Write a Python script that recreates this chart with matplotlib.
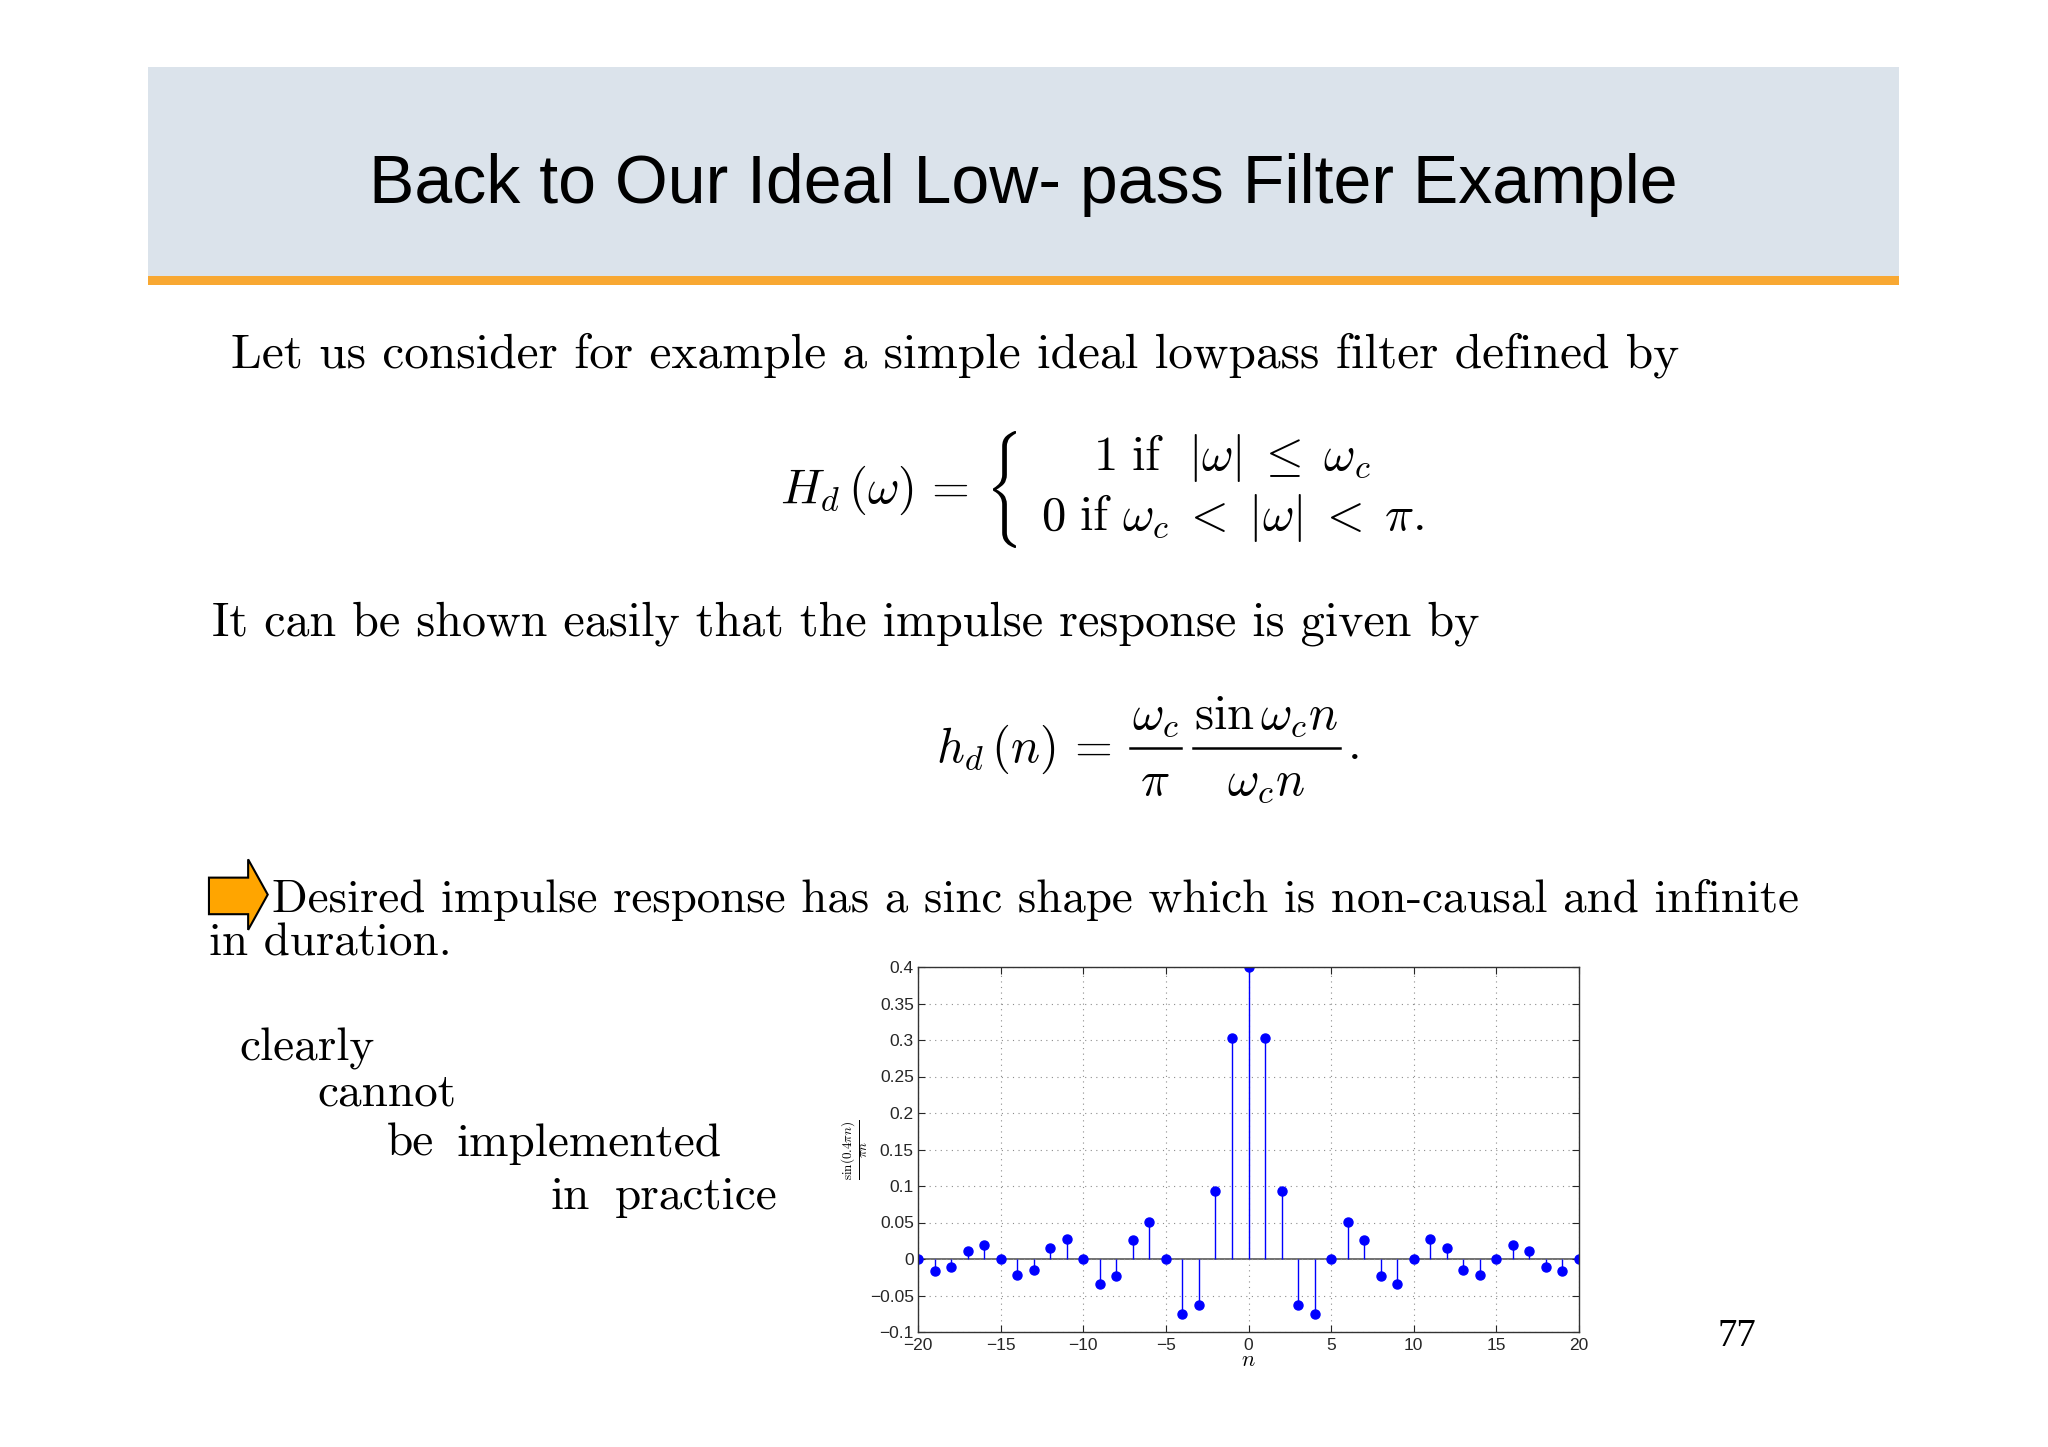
import numpy as np
import matplotlib.pyplot as plt
from matplotlib.patches import Rectangle, Polygon, PathPatch
from matplotlib.textpath import TextPath
from matplotlib.transforms import Affine2D, IdentityTransform
from matplotlib.lines import Line2D

plt.rcParams['mathtext.fontset'] = 'cm'

W, H = 2048, 1447

# stem data
n_vals = list(range(-20, 21))
h_vals = [0.0, -0.0159, -0.0104, 0.0110, 0.0189, 0.0, -0.0216, -0.0144, 0.0156, 0.0275,
          0.0, -0.0336, -0.0234, 0.0267, 0.0505, 0.0, -0.0757, -0.0624, 0.0935, 0.3027,
          0.4,
          0.3027, 0.0935, -0.0624, -0.0757, 0.0, 0.0505, 0.0267, -0.0234, -0.0336, 0.0,
          0.0275, 0.0156, -0.0144, -0.0216, 0.0, 0.0189, 0.0110, -0.0104, -0.0159, 0.0]
x_ticks = [-20, -15, -10, -5, 0, 5, 10, 15, 20]
y_ticks = [-0.1, -0.05, 0, 0.05, 0.1, 0.15, 0.2, 0.25, 0.3, 0.35, 0.4]
y_tick_labels = ['\u22120.1', '\u22120.05', '0', '0.05', '0.1', '0.15', '0.2', '0.25', '0.3', '0.35', '0.4']
x_tick_labels = ['\u221220', '\u221215', '\u221210', '\u22125', '0', '5', '10', '15', '20']

title = 'Back to Our Ideal Low- pass Filter Example'
line1 = 'Let us consider for example a simple ideal lowpass filter defined by'
line2 = 'It can be shown easily that the impulse response is given by'
line3 = 'Desired impulse response has a sinc shape which is non-causal and infinite'
line4 = 'in duration.'
steps = ['clearly', 'cannot', 'be', 'implemented', 'in', 'practice']


def P(x, y):
    # pixel position (from top-left) -> figure fraction
    return x / W, 1 - y / H


fig = plt.figure(figsize=(W / 100, H / 100), dpi=100)
fig.patch.set_facecolor('white')

# header band
x0, y0 = P(148, 276)
fig.patches.append(Rectangle((x0, y0), (1899 - 148) / W, (276 - 67) / H,
                             transform=fig.transFigure, facecolor='#dbe3eb', edgecolor='none'))
x0, y0 = P(148, 285)
fig.patches.append(Rectangle((x0, y0), (1899 - 148) / W, 9 / H,
                             transform=fig.transFigure, facecolor='#f8a832', edgecolor='none'))
fig.text(*P(1023, 203), title, family='Liberation Sans', fontsize=49,
         ha='center', va='baseline', color='black')

body = dict(family='cmr10', va='baseline', color='black')
fig.text(*P(231, 367), line1, fontsize=35.5, **body)

# H_d(w) with cases
mfs = 35
fig.text(*P(969, 503), r'$H_d\,(\omega)\,=$', fontsize=mfs, ha='right', va='baseline')
fig.text(*P(1232, 470), r'$1\ \mathrm{if}\ \ |\omega|\;\leq\;\omega_c$', fontsize=mfs,
         ha='center', va='baseline')
fig.text(*P(1232, 530), r'$0\ \mathrm{if}\ \omega_c\;<\;|\omega|\;<\;\pi.$', fontsize=mfs,
         ha='center', va='baseline')
tp = TextPath((0, 0), r'$\{$', size=60)
bb = tp.get_extents()
bx0, bx1, by0, by1 = 993, 1016, 431, 548
tr = (Affine2D().translate(-bb.x0, -bb.y0)
      .scale((bx1 - bx0) / bb.width, (by1 - by0) / bb.height)
      .translate(bx0, H - by1))
fig.patches.append(PathPatch(tr.transform_path(tp), transform=IdentityTransform(),
                             facecolor='black', edgecolor='none'))

fig.text(*P(212, 635), line2, fontsize=34.7, **body)

# h_d(n) built piece by piece
fig.text(*P(936, 762), r'$h_d\,(n)\,=$', fontsize=mfs, ha='left', va='baseline')
fig.text(*P(1155, 729), r'$\omega_c$', fontsize=mfs, ha='center', va='baseline')
fig.text(*P(1155, 795), r'$\pi$', fontsize=mfs, ha='center', va='baseline')
fig.text(*P(1266, 729), r'$\sin\omega_c n$', fontsize=mfs, ha='center', va='baseline')
fig.text(*P(1266, 795), r'$\omega_c n$', fontsize=mfs, ha='center', va='baseline')
fig.text(*P(1347, 759), r'$.$', fontsize=mfs, ha='left', va='baseline')
for xa, xb in [(1130, 1181), (1193, 1340)]:
    fig.lines.append(Line2D([xa / W, xb / W], [1 - 748 / H] * 2, transform=fig.transFigure,
                            color='black', linewidth=1.8))

# orange block arrow
s = 1.306
arrow = [(160, 672), (190, 672), (190, 658), (205, 685), (190, 712), (190, 700), (160, 700)]
fig.patches.append(Polygon([P(a * s, b * s) for a, b in arrow], closed=True,
                           transform=fig.transFigure, facecolor='#ffa500',
                           edgecolor='black', linewidth=1.5))
fig.text(*P(272, 912), line3, fontsize=33.8, **body)
fig.text(*P(209, 956), line4, fontsize=33.8, **body)

step_pos = [(239, 1060), (317, 1105), (387, 1156), (457, 1156), (550, 1209), (615, 1209)]
for (xx, yy), t in zip(step_pos, steps):
    fig.text(*P(xx, yy), t, fontsize=34, **body)

fig.text(*P(1717, 1346), '77', family='Liberation Serif', fontsize=28, va='baseline')

# stem plot
ax = fig.add_axes([918 / W, 1 - 1332 / H, (1579 - 918) / W, (1332 - 967) / H])
ml, sl, bl = ax.stem(n_vals, h_vals, basefmt=' ')
plt.setp(sl, color='#0000ff', linewidth=1.0)
plt.setp(ml, color='#0000ff', markersize=6.5)
ax.axhline(0, color='0.35', linewidth=1.2, zorder=1)
ax.set_xlim(-20, 20)
ax.set_ylim(-0.1, 0.4)
ax.set_xticks(x_ticks)
ax.set_xticklabels(x_tick_labels)
ax.set_yticks(y_ticks)
ax.set_yticklabels(y_tick_labels)
ax.tick_params(direction='in', length=5, top=True, right=True, labelsize=12.5,
               colors='0.15', width=0.8)
ax.tick_params(axis='x', pad=4)
ax.tick_params(axis='y', pad=3)
for lab in ax.get_xticklabels() + ax.get_yticklabels():
    lab.set_family('Liberation Sans')
ax.grid(True, linestyle=(0, (1, 4)), color='0.55', linewidth=0.8)
for sp in ax.spines.values():
    sp.set_color('0.2')
    sp.set_linewidth(1.0)
ax.set_xlabel(r'$n$', fontsize=16, labelpad=-2)
ax.set_ylabel(r'$\frac{\sin(0.4\pi n)}{\pi n}$', fontsize=13.5)
ax.yaxis.set_label_coords(-0.072, 0.5)

fig.savefig('out.png', dpi=100)
